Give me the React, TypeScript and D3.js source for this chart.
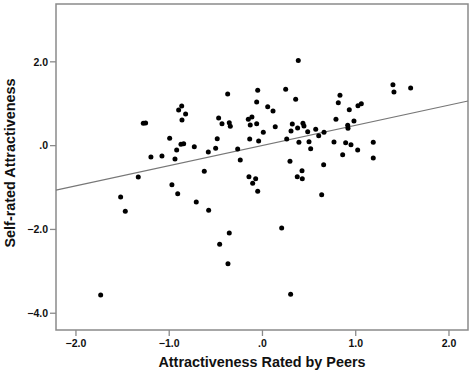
import React from 'react';
import * as d3 from 'd3';

// peer-rated attractiveness (x) vs self-rated attractiveness (y)
const peerRated = [
  -1.735, -1.521, -1.471, -1.332, -1.278, -1.253, -1.196, -1.078, -0.995, -0.971,
  -0.938, -0.920, -0.909, -0.899, -0.866, -0.824, -0.863, -0.874, -0.845, -0.731,
  -0.710, -0.624, -0.581, -0.577, -0.502, -0.485, -0.470, -0.459, -0.434, -0.373,
  -0.370, -0.356, -0.356, -0.345, -0.266, -0.238, -0.152, -0.113, -0.131, -0.062,
  -0.137, -0.145, -0.073, -0.105, -0.051, -0.051, -0.062, -0.041, 0.009, 0.056,
  0.113, 0.137, 0.206, 0.249, 0.260, 0.295, 0.302, 0.306, 0.320, 0.356,
  0.377, 0.373, 0.384, 0.391, 0.424, 0.427, 0.434, 0.445, 0.485, 0.499,
  0.517, 0.571, 0.603, 0.635, 0.656, 0.660, 0.767, 0.788, 0.813, 0.831,
  0.860, 0.892, 0.914, 0.917, 0.931, 0.949, 0.981, 1.021, 1.024, 1.060,
  1.188, 1.188, 1.399, 1.410, 1.589,
];
const selfRated = [
  -3.566, -1.227, -1.568, -0.749, 0.532, 0.539, -0.272, -0.248, 0.174, -0.933,
  -0.320, -0.105, -1.148, 0.850, 0.945, 0.754, 0.611, 0.031, 0.045, -0.026,
  -1.346, -0.613, -0.153, -1.544, -0.064, 0.165, 0.659, -2.356, 0.523, 1.232,
  -2.819, -2.086, 0.547, 0.461, -0.081, -0.344, 0.628, 0.683, 0.492, 0.523,
  0.158, -0.742, -0.790, -0.900, -1.091, 1.320, 1.041, 0.110, 0.317, 0.928,
  0.826, 0.451, -1.967, 1.344, 0.158, -0.375, -3.549, 0.348, 0.516, 1.105,
  0.420, -0.742, 2.031, 0.079, -0.599, -0.790, 0.532, 0.468, 0.332, 0.093,
  -0.074, 0.389, 0.236, -1.172, -0.456, 0.317, 0.086, 0.628, 1.024, 1.200,
  -0.217, 0.069, 0.484, 0.413, 0.857, 0.021, 0.587, -0.105, 0.952, 1.000,
  0.079, -0.296, 1.453, 1.279, 1.375,
];

// linear fit line
const fitIntercept = 0.005;
const fitSlope = 0.481;

const xTicks = [-2, -1, 0, 1, 2];
const yTicks = [2, 0, -2, -4];

const W = 474;
const H = 374;
const margin = { top: 4, right: 6, bottom: 44, left: 56 };
const font = '"Liberation Sans", Arial, sans-serif';

const fmt = (d: number) => (d === 0 ? '.0' : d3.format('.1f')(d));

const App: React.FC = () => {
  const x = d3.scaleLinear().domain([-2.214, 2.204]).range([margin.left, W - margin.right]);
  const y = d3.scaleLinear().domain([-4.4, 3.38]).range([H - margin.bottom, margin.top]);

  const points = peerRated.map((v, i) => ({ x: v, y: selfRated[i] }));
  const [x0, x1] = x.domain();
  const line = d3.line<number>()
    .x(d => x(d))
    .y(d => y(fitIntercept + fitSlope * d));

  const axisColor = '#8a8a8a';
  const textColor = '#111';

  return (
    <div style={{ position: 'fixed', left: 0, top: 0 }}>
      <svg width={W} height={H} style={{ display: 'block', background: '#fff' }}>
        {/* frame */}
        <rect
          x={x(x0)}
          y={y(3.38)}
          width={x(x1) - x(x0)}
          height={y(-4.4) - y(3.38)}
          fill="none"
          stroke={axisColor}
          strokeWidth={1.5}
        />
        {/* y ticks */}
        {yTicks.map(t => (
          <g key={'y' + t}>
            <line x1={x(x0) - 6} x2={x(x0)} y1={y(t)} y2={y(t)} stroke={axisColor} strokeWidth={1.3} />
            <text
              x={x(x0) - 8}
              y={y(t)}
              dy="0.35em"
              textAnchor="end"
              fontFamily={font}
              fontWeight="bold"
              fontSize={10.5}
              fill={textColor}
            >
              {fmt(t)}
            </text>
          </g>
        ))}
        {/* x ticks */}
        {xTicks.map(t => (
          <g key={'x' + t}>
            <line x1={x(t)} x2={x(t)} y1={y(-4.4)} y2={y(-4.4) + 6} stroke={axisColor} strokeWidth={1.3} />
            <text
              x={x(t)}
              y={347}
              textAnchor="middle"
              fontFamily={font}
              fontWeight="bold"
              fontSize={10.5}
              fill={textColor}
            >
              {fmt(t)}
            </text>
          </g>
        ))}
        {/* fit line */}
        <path d={line([x0, x1]) || ''} fill="none" stroke="#777" strokeWidth={1.2} />
        {/* points */}
        {points.map((p, i) => (
          <circle key={i} cx={x(p.x)} cy={y(p.y)} r={2.5} fill="#000" />
        ))}
        {/* axis titles */}
        <text
          x={(x(x0) + x(x1)) / 2}
          y={367}
          textAnchor="middle"
          fontFamily={font}
          fontWeight="bold"
          fontSize={14.4}
          fill={textColor}
        >
          Attractiveness Rated by Peers
        </text>
        <text
          transform="translate(14.5,163) rotate(-90)"
          textAnchor="middle"
          fontFamily={font}
          fontWeight="bold"
          fontSize={14.4}
          fill={textColor}
        >
          Self-rated Attractiveness
        </text>
      </svg>
    </div>
  );
};

export default App;
